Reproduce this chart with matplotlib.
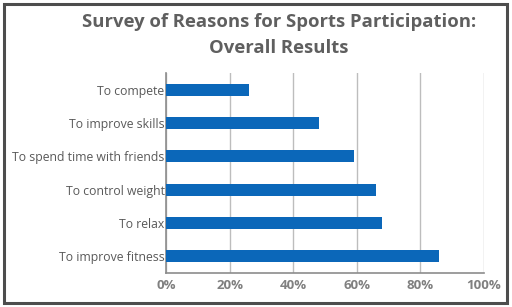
import matplotlib
matplotlib.use("Agg")
import matplotlib.pyplot as plt
from matplotlib.patches import Rectangle
from matplotlib.ticker import FuncFormatter

categories = ["To compete", "To improve skills", "To spend time with friends",
              "To control weight", "To relax", "To improve fitness"]
values = [26, 48, 59, 66, 68, 86]
xticks = [0, 20, 40, 60, 80, 100]

plt.rcParams['font.family'] = ['Open Sans', 'DejaVu Sans']
gray = '#595959'

fig = plt.figure(figsize=(5.12, 3.07), dpi=100)
fig.patch.set_facecolor('white')
W, H = 512, 307
ax = fig.add_axes([166 / W, 1 - 273 / H, (484 - 166) / W, (273 - 73) / H])

ypos = list(range(len(categories)))
ax.barh(ypos, values, height=0.36, color='#0b67b9', zorder=3)
ax.set_ylim(len(categories) - 0.5, -0.5)
ax.set_xlim(0, 100)
ax.set_yticks(ypos)
ax.set_yticklabels(categories, fontsize=8.8, color=gray)
ax.set_xticks(xticks)
ax.xaxis.set_major_formatter(FuncFormatter(lambda v, p: f"{int(v)}%"))
ax.tick_params(axis='x', labelsize=9.5, colors=gray, length=0, pad=4)
ax.tick_params(axis='y', length=0, pad=1)
for lab in ax.get_xticklabels():
    lab.set_fontweight('bold')
    lab.set_color('#808080')
ax.grid(axis='x', color='#bdbdbd', linewidth=1, zorder=0)
for s in ['top', 'right']:
    ax.spines[s].set_visible(False)
ax.spines['left'].set_color('#8c8c8c')
ax.spines['bottom'].set_color('#8c8c8c')
ax.spines['left'].set_linewidth(1.2)
ax.spines['bottom'].set_linewidth(1.2)

fig.text(279 / W, 1 - 22 / H, "Survey of Reasons for Sports Participation:",
         ha='center', va='center', fontsize=13.3, fontweight='bold', color='#5f5f5f')
fig.text(279 / W, 1 - 48 / H, "Overall Results",
         ha='center', va='center', fontsize=13.3, fontweight='bold', color='#5f5f5f')

fig.patches.append(Rectangle((4 / W, 4 / H), (W - 9) / W, (H - 8) / H,
                             transform=fig.transFigure, fill=False,
                             edgecolor='#4d4d4d', linewidth=2.2))

fig.savefig("out.png", dpi=100)
